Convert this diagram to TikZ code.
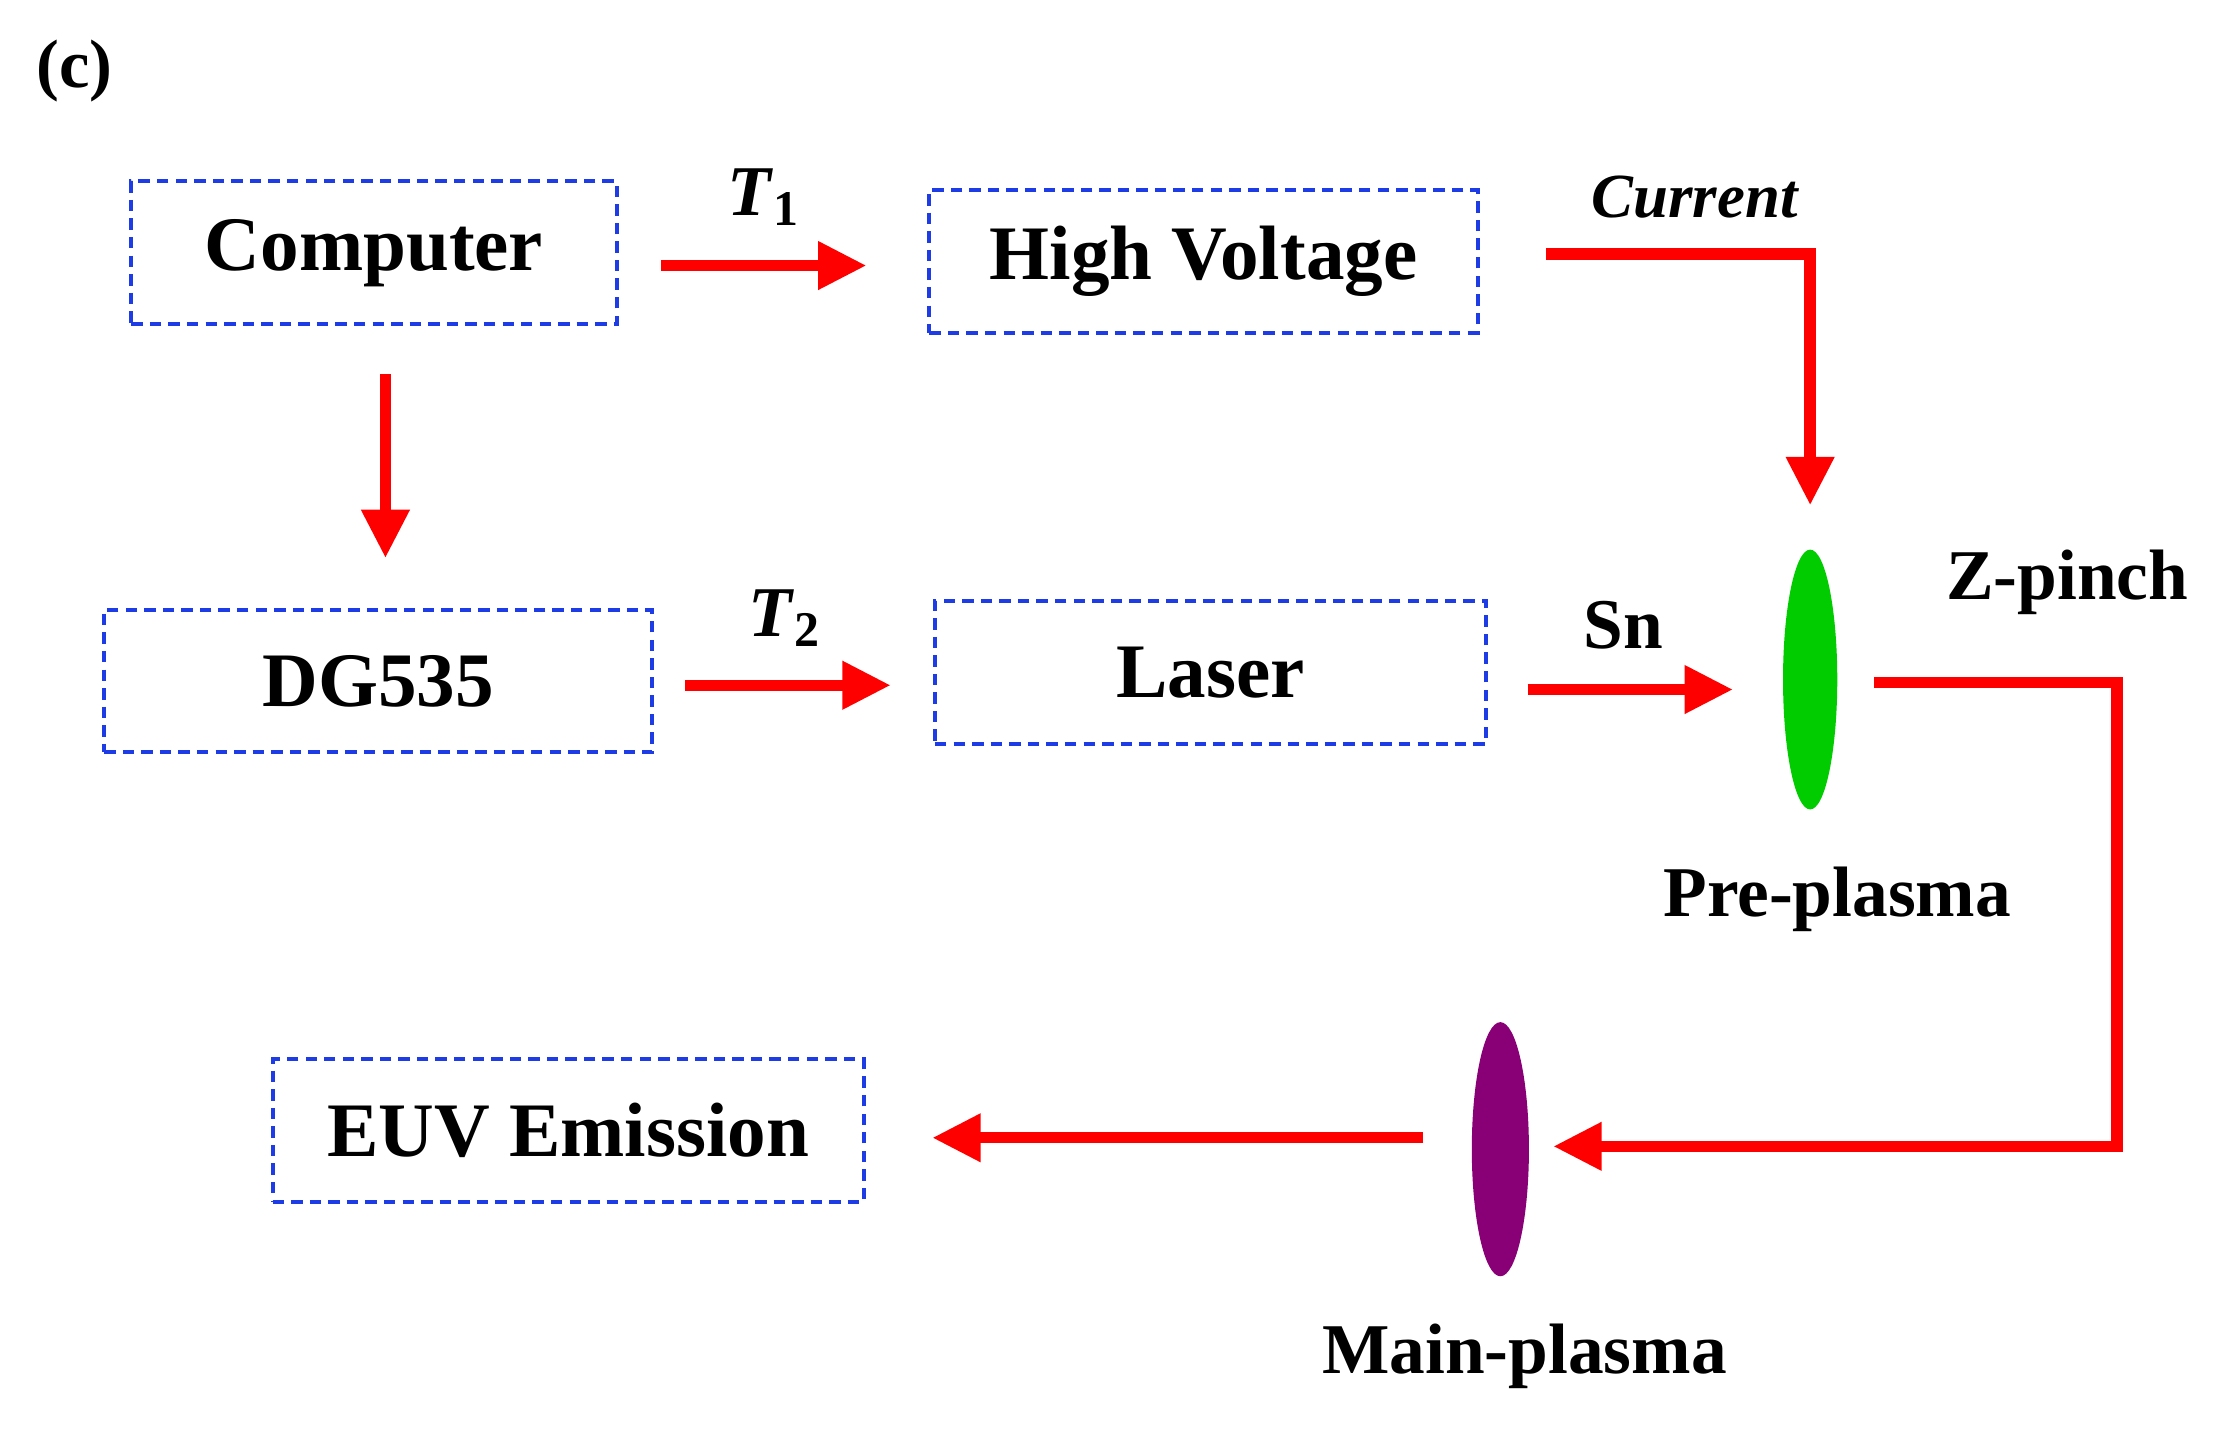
\documentclass[tikz,border=0pt]{standalone}
\usepackage{fontspec}
\setmainfont{Liberation Serif}
\usetikzlibrary{arrows.meta}
\definecolor{ared}{RGB}{255,0,0}
\definecolor{bblue}{RGB}{30,60,230}
\begin{document}
\begin{tikzpicture}[x=0.5pt,y=-0.5pt,
  box/.style={draw=bblue,line width=1.4pt,dash pattern=on 4pt off 2.5pt,minimum width=#1,minimum height=50pt,inner sep=0pt,font=\fontsize{27}{32}\selectfont\bfseries},
  lbl/.style={font=\fontsize{25}{30}\selectfont\bfseries},
  arr/.style={draw=ared,line width=4pt,-{Triangle[length=17pt,width=16pt]}}]
\useasboundingbox (0,0) rectangle (1560,1002);
\node[lbl,font=\fontsize{24}{28}\selectfont\bfseries] (c) at (52,50) {(c)};
\node[box=170pt] (comp) at (262,177) {Computer};
\node[box=192pt] (hv) at (843,183) {High Voltage};
\node[box=192pt] (dg) at (265,477) {DG535};
\node[box=193pt] (laser) at (848,471) {Laser};
\node[box=207pt] (euv) at (398,792) {EUV Emission};
\fill[green!80!black] (1268,476) ellipse (19 and 91);
\node[inner sep=0pt,minimum width=19pt,minimum height=91pt] (pre) at (1268,476) {};
\fill[violet!85!purple] (1051,805) ellipse (20 and 89);
\node[inner sep=0pt,minimum width=20pt,minimum height=89pt] (main) at (1051,805) {};
\coordinate (t1a) at (463,186); \coordinate (t1b) at (607,186);
\draw[arr] (t1a) -- (t1b);
\node[lbl] (t1) at (535,138) {\textit{T}\textsubscript{1}};
\coordinate (cu0) at (1083,178); \coordinate (cu1) at (1268,178); \coordinate (cu2) at (1268,354);
\draw[arr] (cu0) -- (cu1) -- (cu2);
\node[lbl,font=\fontsize{22}{26}\selectfont\bfseries\itshape] (cur) at (1187,138) {Current};
\coordinate (cd0) at (270,262); \coordinate (cd1) at (270,391);
\draw[arr] (cd0) -- (cd1);
\coordinate (t2a) at (480,480); \coordinate (t2b) at (624,480);
\draw[arr] (t2a) -- (t2b);
\node[lbl] (t2) at (550,433) {\textit{T}\textsubscript{2}};
\coordinate (sna) at (1070,483); \coordinate (snb) at (1214,483);
\draw[arr] (sna) -- (snb);
\node[lbl] (sn) at (1137,438) {Sn};
\node[lbl] (zp) at (1448,408) {Z-pinch};
\node[lbl] (pp) at (1287,630) {Pre-plasma};
\coordinate (z0) at (1313,478); \coordinate (z1) at (1483,478); \coordinate (z2) at (1483,803); \coordinate (z3) at (1088,803);
\draw[arr] (z0) -- (z1) -- (z2) -- (z3);
\coordinate (e0) at (997,797); \coordinate (e1) at (653,797);
\draw[arr] (e0) -- (e1);
\node[lbl] (mp) at (1068,950) {Main-plasma};
\end{tikzpicture}
\end{document}
